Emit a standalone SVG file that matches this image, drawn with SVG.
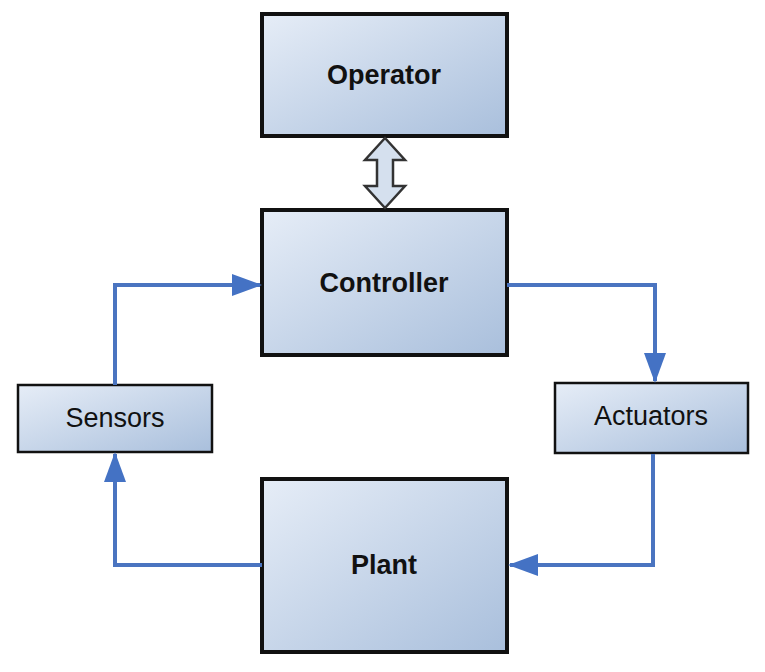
<svg xmlns="http://www.w3.org/2000/svg" width="765" height="672" viewBox="0 0 765 672">
<defs>
<linearGradient id="g" x1="0" y1="0" x2="1" y2="1"><stop offset="0" stop-color="#e6edf7"/><stop offset="1" stop-color="#a9bfdc"/></linearGradient>
<marker id="a" markerWidth="8" markerHeight="8" refX="6" refY="4" orient="auto" markerUnits="userSpaceOnUse" viewBox="0 0 8 8"><path d="M0,0 L8,4 L0,8 Z" fill="#4472c4"/></marker>
<marker id="b" markerWidth="30" markerHeight="30" refX="28" refY="15" orient="auto" markerUnits="userSpaceOnUse"><path d="M0,4 L30,15 L0,26 Z" fill="#4472c4"/></marker>
<style>.box{fill:url(#g);stroke:#111;stroke-width:4}.sm{fill:url(#g);stroke:#111;stroke-width:2.5}.t{font-family:"Liberation Sans",Arial,sans-serif;font-size:27px;text-anchor:middle;fill:#111}.bd{font-weight:bold}.c{fill:none;stroke:#4a74c0;stroke-width:4}</style>
</defs>
<g id="operator"><rect class="box" x="262" y="14" width="245" height="122"/><text class="t bd" x="384" y="84">Operator</text></g>
<g id="controller"><rect class="box" x="262" y="210" width="245" height="145"/><text class="t bd" x="384" y="292">Controller</text></g>
<g id="plant"><rect class="box" x="262" y="479" width="245" height="173"/><text class="t bd" x="384" y="574">Plant</text></g>
<g id="sensors"><rect class="sm" x="18" y="385" width="194" height="67"/><text class="t" x="115" y="427">Sensors</text></g>
<g id="actuators"><rect class="sm" x="555" y="383" width="193" height="70"/><text class="t" x="651" y="425">Actuators</text></g>
<g id="connectors">
<path d="M385,138 L405,160 L393,160 L393,186 L405,186 L385,208 L365,186 L377,186 L377,160 L365,160 Z" fill="#d5e0ee" stroke="#333" stroke-width="2.5"/>
<path class="c" d="M115,385 L115,285 L260,285" marker-end="url(#b)"/>
<path class="c" d="M507,285 L655,285 L655,381" marker-end="url(#b)"/>
<path class="c" d="M653,454 L653,565 L510,565" marker-end="url(#b)"/>
<path class="c" d="M262,565 L115,565 L115,454" marker-end="url(#b)"/>
</g>
</svg>
